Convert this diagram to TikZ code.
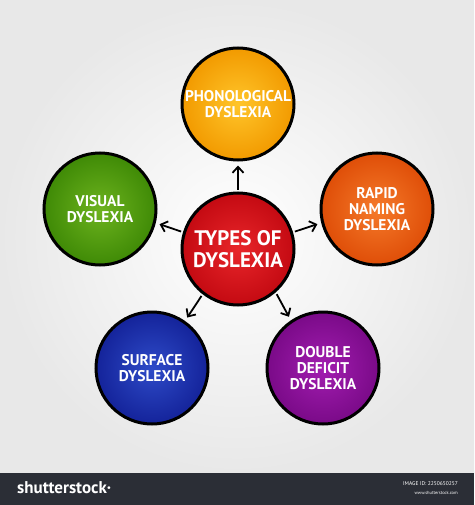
\documentclass[tikz,border=0pt]{standalone}
\usepackage{fontspec}
\setmainfont{PT Sans}
\usetikzlibrary{arrows.meta}
\definecolor{barcol}{HTML}{2B2E36}
\definecolor{oraI}{HTML}{FFC52A}\definecolor{oraO}{HTML}{F29A00}
\definecolor{redI}{HTML}{E8262A}\definecolor{redO}{HTML}{C40A12}
\definecolor{grnI}{HTML}{6DB31E}\definecolor{grnO}{HTML}{3F8A06}
\definecolor{rapI}{HTML}{F57A2A}\definecolor{rapO}{HTML}{DF4E08}
\definecolor{bluI}{HTML}{2E4BC8}\definecolor{bluO}{HTML}{14239A}
\definecolor{purI}{HTML}{A21DB0}\definecolor{purO}{HTML}{7A0A88}
\begin{document}
\begin{tikzpicture}[x=1pt,y=-1pt,
  bubble/.style={circle, draw=black, line width=3pt, minimum size=112pt, inner sep=0pt,
    align=center, text=white, font=\bfseries\fontsize{15.5}{16}\selectfont},
  conn/.style={line width=1.8pt, shorten <=2pt, shorten >=4pt, -{Straight Barb[length=6pt,width=11pt]}},
  bartext/.style={text=white, inner sep=0pt}]
\useasboundingbox (0,0) rectangle (474,505);
\shade[inner color=white, outer color=black!9] (0,0) rectangle (474,473);
\fill[barcol] (0,473) rectangle (474,505);

\node[bubble, inner color=redI, outer color=redO, font=\bfseries\fontsize{21}{22}\selectfont] (c) at (238,249) {TYPES OF\\DYSLEXIA};
\node[bubble, inner color=oraI, outer color=oraO] (p) at (238,104) {PHONOLOGICAL\\DYSLEXIA};
\node[bubble, inner color=grnI, outer color=grnO] (v) at (100,209) {VISUAL\\DYSLEXIA};
\node[bubble, inner color=rapI, outer color=rapO] (r) at (377,209) {RAPID\\NAMING\\DYSLEXIA};
\node[bubble, inner color=bluI, outer color=bluO] (s) at (152,368) {SURFACE\\DYSLEXIA};
\node[bubble, inner color=purI, outer color=purO] (d) at (323,368) {DOUBLE\\DEFICIT\\DYSLEXIA};

\draw[conn] (c.90) -- (p.270);
\draw[conn] (c.163) -- (v.-14);
\draw[conn] (c.17) -- (r.194);
\draw[conn] (c.232) -- (s.55);
\draw[conn] (c.-49) -- (d.124);

\node[bartext, anchor=west, font=\bfseries\fontsize{17}{17}\selectfont] (logo) at (17,488) {shutterstock\textperiodcentered};
\node[bartext, anchor=east, font=\fontsize{5.5}{6}\selectfont] (id) at (458,484) {IMAGE ID: 2250650257};
\node[bartext, anchor=east, font=\fontsize{4.5}{5}\selectfont] (www) at (458,493) {www.shutterstock.com};
\end{tikzpicture}
\end{document}
